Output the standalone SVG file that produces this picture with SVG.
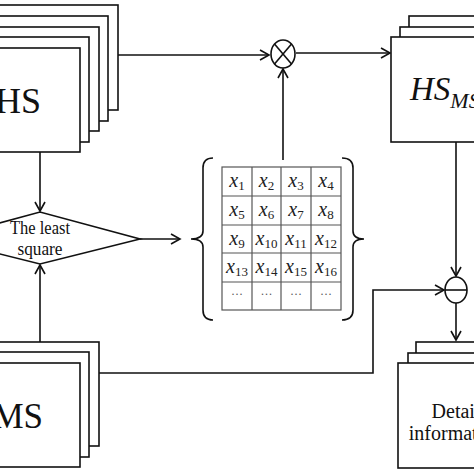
<svg xmlns="http://www.w3.org/2000/svg" width="474" height="474" viewBox="0 0 474 474">
<style>
.box{fill:#fff;stroke:#111;stroke-width:1.6}
.ln{fill:none;stroke:#111;stroke-width:1.6}
.grid{fill:#fff;stroke:#555;stroke-width:1.2}
.big{font-family:"Liberation Serif",serif;fill:#111}
.mx{font-family:"Liberation Serif",serif;font-size:20px;fill:#222;text-anchor:middle}
.sub{font-size:13px;font-style:normal}
</style>
<defs>
<marker id="ah" markerWidth="12" markerHeight="12" refX="10" refY="6" orient="auto" markerUnits="userSpaceOnUse">
<path d="M1,1 L10,6 L1,11" fill="none" stroke="#111" stroke-width="1.6"/>
</marker>
</defs>
<rect width="474" height="474" fill="#fff"/>

<g id="connectors">
<line class="ln" x1="118" y1="55" x2="269" y2="55" marker-end="url(#ah)"/>
<line class="ln" x1="296" y1="53" x2="390" y2="53" marker-end="url(#ah)"/>
<line class="ln" x1="283" y1="160" x2="283" y2="69" marker-end="url(#ah)"/>
<line class="ln" x1="40" y1="152" x2="40" y2="211" marker-end="url(#ah)"/>
<line class="ln" x1="40" y1="342" x2="40" y2="265" marker-end="url(#ah)"/>
<line class="ln" x1="140" y1="239" x2="180" y2="239" marker-end="url(#ah)"/>
<line class="ln" x1="456" y1="142" x2="456" y2="276" marker-end="url(#ah)"/>
<polyline class="ln" points="99,373 373,373 373,290 444,290" marker-end="url(#ah)"/>
<line class="ln" x1="456" y1="303" x2="456" y2="340" marker-end="url(#ah)"/>
</g>

<g id="hs">
<rect class="box" x="-100" y="5" width="218" height="105"/>
<rect class="box" x="-100" y="16" width="208" height="105"/>
<rect class="box" x="-100" y="27" width="199" height="104"/>
<rect class="box" x="-100" y="37" width="189" height="105"/>
<rect class="box" x="-100" y="48" width="180" height="104"/>
<text class="big" x="41" y="113" font-size="36" text-anchor="end">HS</text>
</g>

<g id="ms">
<rect class="box" x="-100" y="342" width="199" height="104"/>
<rect class="box" x="-100" y="352" width="189" height="105"/>
<rect class="box" x="-100" y="363" width="180" height="104"/>
<text class="big" x="43" y="428" font-size="35" text-anchor="end">MS</text>
</g>

<g id="least-square">
<polygon class="box" points="-60,239 40,212 140,239 40,264"/>
<text class="big" x="40" y="234" font-size="18" text-anchor="middle" textLength="60" lengthAdjust="spacingAndGlyphs">The least</text>
<text class="big" x="40" y="255" font-size="18" text-anchor="middle" textLength="45" lengthAdjust="spacingAndGlyphs">square</text>
</g>

<g id="matrix">
<path class="ln" stroke-width="2" d="M213,158 Q203,158 203,168 L203,231 Q203,239 191,239 Q203,239 203,247 L203,310 Q203,320 213,320"/>
<path class="ln" stroke-width="2" d="M342,158 Q353,158 353,168 L353,231 Q353,239 364,239 Q353,239 353,247 L353,310 Q353,320 342,320"/>
<rect class="grid" x="222" y="167" width="119" height="143"/>
<g stroke="#555" stroke-width="1.2">
<line x1="252" y1="167" x2="252" y2="310"/>
<line x1="281" y1="167" x2="281" y2="310"/>
<line x1="311" y1="167" x2="311" y2="310"/>
<line x1="222" y1="196" x2="341" y2="196"/>
<line x1="222" y1="225" x2="341" y2="225"/>
<line x1="222" y1="253" x2="341" y2="253"/>
<line x1="222" y1="282" x2="341" y2="282"/>
</g>
<g font-style="italic">
<text class="mx" x="237" y="187">x<tspan class="sub" dy="3">1</tspan></text>
<text class="mx" x="266.5" y="187">x<tspan class="sub" dy="3">2</tspan></text>
<text class="mx" x="296" y="187">x<tspan class="sub" dy="3">3</tspan></text>
<text class="mx" x="326" y="187">x<tspan class="sub" dy="3">4</tspan></text>
<text class="mx" x="237" y="216">x<tspan class="sub" dy="3">5</tspan></text>
<text class="mx" x="266.5" y="216">x<tspan class="sub" dy="3">6</tspan></text>
<text class="mx" x="296" y="216">x<tspan class="sub" dy="3">7</tspan></text>
<text class="mx" x="326" y="216">x<tspan class="sub" dy="3">8</tspan></text>
<text class="mx" x="237" y="245">x<tspan class="sub" dy="3">9</tspan></text>
<text class="mx" x="266.5" y="245">x<tspan class="sub" dy="3">10</tspan></text>
<text class="mx" x="296" y="245">x<tspan class="sub" dy="3">11</tspan></text>
<text class="mx" x="326" y="245">x<tspan class="sub" dy="3">12</tspan></text>
<text class="mx" x="237" y="273">x<tspan class="sub" dy="3">13</tspan></text>
<text class="mx" x="266.5" y="273">x<tspan class="sub" dy="3">14</tspan></text>
<text class="mx" x="296" y="273">x<tspan class="sub" dy="3">15</tspan></text>
<text class="mx" x="326" y="273">x<tspan class="sub" dy="3">16</tspan></text>
</g>
<g font-family="Liberation Serif, serif" font-size="12" fill="#555" text-anchor="middle">
<text x="237" y="298">···</text>
<text x="266.5" y="298">···</text>
<text x="296" y="298">···</text>
<text x="326" y="298">···</text>
</g>
</g>

<g id="multiply">
<ellipse class="ln" cx="283" cy="54" rx="12" ry="14" fill="#fff"/>
<line class="ln" x1="274.5" y1="44" x2="291.5" y2="64"/>
<line class="ln" x1="291.5" y1="44" x2="274.5" y2="64"/>
</g>

<g id="subtract">
<ellipse class="ln" cx="456" cy="290" rx="11" ry="13" fill="#fff"/>
<line class="ln" x1="445" y1="290" x2="467" y2="290"/>
</g>

<g id="hs-ms">
<rect class="box" x="409" y="16" width="100" height="105"/>
<rect class="box" x="400" y="27" width="100" height="105"/>
<rect class="box" x="391" y="37" width="110" height="105"/>
<text class="big" x="410" y="100" font-size="33" font-style="italic">HS<tspan font-size="22" dy="8">MS</tspan></text>
</g>

<g id="detail">
<rect class="box" x="416" y="342" width="100" height="105"/>
<rect class="box" x="408" y="353" width="100" height="105"/>
<rect class="box" x="398" y="363" width="110" height="105"/>
<text class="big" x="456" y="418" font-size="20" text-anchor="middle">Detail</text>
<text class="big" x="456" y="440" font-size="20" text-anchor="middle">information</text>
</g>
</svg>
